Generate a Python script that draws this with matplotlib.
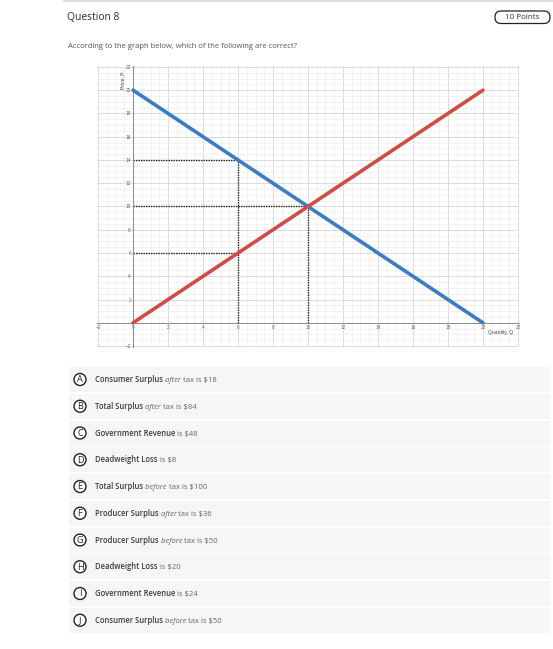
import numpy as np
import matplotlib
matplotlib.use("Agg")
import matplotlib.pyplot as plt
from matplotlib.patches import Circle, Rectangle, FancyBboxPatch

# --- Daten ---
demand_q = [0, 20]
demand_p = [20, 0]
supply_q = [0, 20]
supply_p = [0, 20]

# gestrichelte Hilfslinien (Preis -> Menge)
guide_prices = [14, 10, 6]
guide_qty = [6, 10, 6]

tick_vals = [-2, 0, 2, 4, 6, 8, 10, 12, 14, 16, 18, 20, 22]
ytick_vals = [-2, 2, 4, 6, 8, 10, 12, 14, 16, 18, 20, 22]

letters = ["A", "B", "C", "D", "E", "F", "G", "H", "I", "J"]
option_labels = ["Consumer Surplus", "Total Surplus", "Government Revenue",
                 "Deadweight Loss", "Total Surplus", "Producer Surplus",
                 "Producer Surplus", "Deadweight Loss", "Government Revenue",
                 "Consumer Surplus"]
option_timing = ["after", "after", "", "", "before", "after", "before", "", "", "before"]
option_values = [18, 84, 48, 8, 100, 36, 50, 20, 24, 50]

plt.rcParams["font.family"] = ["Open Sans", "DejaVu Sans"]

W, H = 553, 649
fig = plt.figure(figsize=(W / 100, H / 100), dpi=100)
fig.patch.set_facecolor("white")

# Seitenebene in Pixelkoordinaten
page = fig.add_axes([0, 0, 1, 1], zorder=0)
page.set_xlim(0, W)
page.set_ylim(H, 0)
page.axis("off")

page.plot([64, W], [1, 1], color="#d6d6d6", lw=1.2)
page.text(67, 18, "Question 8", fontsize=7.4, color="#2d2d2d", va="center")
pill = FancyBboxPatch((495, 11), 55, 12.5, boxstyle="round,pad=0,rounding_size=6",
                      fc="white", ec="#222222", lw=0.9)
page.add_patch(pill)
page.text(522.5, 17.3, "10 Points", fontsize=5.8, color="#333333", ha="center", va="center")
page.text(68, 46, "According to the graph below, which of the following are correct?",
          fontsize=5.5, color="#555555", va="center")
page.text(506, 80, "•••", fontsize=3, color="#777777", ha="center", va="center")

renderer = fig.canvas.get_renderer()


def draw_segments(x, y, segments):
    for txt, kw in segments:
        t = page.text(x, y, txt, fontsize=5.5, va="baseline", **kw)
        x += t.get_window_extent(renderer).width


for i, letter in enumerate(letters):
    yc = 379.5 + 26.75 * i
    page.add_patch(Rectangle((69, yc - 12.5), 481, 25, fc="#f6f6f6", ec="none"))
    page.add_patch(Circle((80, yc), 6, fc="white", ec="#222222", lw=1.0))
    page.text(80, yc + 0.4, letter, fontsize=6.6, color="#222222", ha="center", va="center")
    segs = [(option_labels[i], dict(color="#3a3a3a", fontweight="semibold"))]
    if option_timing[i]:
        segs.append((" " + option_timing[i], dict(color="#666666", style="italic")))
        segs.append((" tax is $%d" % option_values[i], dict(color="#666666")))
    else:
        segs.append((" is $%d" % option_values[i], dict(color="#666666")))
    draw_segments(95, yc + 2.6, segs)

# --- Diagramm ---
ax = fig.add_axes([97 / W, 1 - 347 / H, 422 / W, 281 / H], zorder=1)
ax.set_xlim(-2.06, 22.06)
ax.set_ylim(-2.08, 22.08)

ax.set_xticks(np.arange(-2, 22.01, 0.5), minor=True)
ax.set_yticks(np.arange(-2, 22.01, 0.5), minor=True)
ax.set_xticks(tick_vals)
ax.set_yticks(ytick_vals)
ax.grid(which="minor", color="#eeeeee", lw=0.5)
ax.grid(which="major", color="#d6d6d6", lw=0.6)
ax.set_axisbelow(True)

for s in ["top", "right"]:
    ax.spines[s].set_visible(False)
ax.spines["left"].set_position(("data", 0))
ax.spines["bottom"].set_position(("data", 0))
for s in ["left", "bottom"]:
    ax.spines[s].set_color("#8a8a8a")
    ax.spines[s].set_linewidth(0.7)
ax.tick_params(which="both", length=0, labelsize=3.4, labelcolor="#666666", pad=1.5)
for lab in ax.get_xticklabels() + ax.get_yticklabels():
    lab.set_family("Liberation Sans")

ax.plot(demand_q, demand_p, color="#3b7dc2", lw=2.6, solid_capstyle="round", zorder=3)
ax.plot(supply_q, supply_p, color="#cf4d46", lw=2.6, solid_capstyle="round", zorder=3)

for p, q in zip(guide_prices, guide_qty):
    ax.plot([0, q], [p, p], color="#222222", lw=1.0, ls=(0, (1, 0.8)), zorder=2)
for p, q in zip(guide_prices[:2], guide_qty[:2]):
    ax.plot([q, q], [0, p], color="#222222", lw=1.0, ls=(0, (1, 0.8)), zorder=2)

ax.text(-0.6, 21.6, "Price, P", rotation=90, fontsize=3.6, color="#444444",
        ha="center", va="top", family="Liberation Sans")
ax.text(21.7, -0.85, "Quantity, Q", fontsize=3.6, color="#444444",
        ha="right", va="center", family="Liberation Sans")

fig.savefig("out.png", dpi=100)
